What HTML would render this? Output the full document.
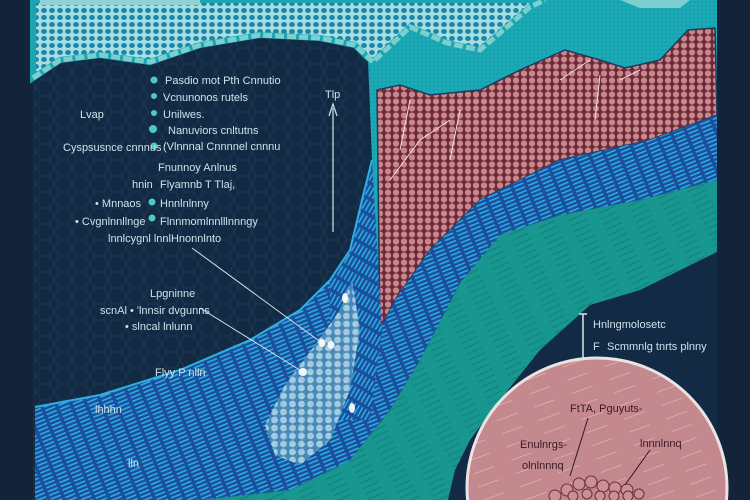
<!DOCTYPE html>
<html><head><meta charset="utf-8">
<style>
html,body{margin:0;padding:0;background:#13233a;width:750px;height:500px;overflow:hidden;}
svg{display:block;overflow:hidden}
text{font-family:"Liberation Sans Narrow","Liberation Sans",sans-serif;fill:#cfe2ea;font-size:11px;}
</style></head>
<body>
<svg width="750" height="500" viewBox="0 0 750 500" xmlns="http://www.w3.org/2000/svg">
<defs>
<clipPath id="frame"><rect width="750" height="500"/></clipPath>
<pattern id="hexd" width="18" height="16" patternUnits="userSpaceOnUse">
<path d="M0 8 L4.5 0 L13.5 0 L18 8 L13.5 16 L4.5 16 Z" fill="none" stroke="#1f3a55" stroke-width="0.8"/>
</pattern>
<pattern id="hexl" width="8" height="7" patternUnits="userSpaceOnUse">
<rect width="8" height="7" fill="#a9dedf"/>
<ellipse cx="4" cy="3.5" rx="2.9" ry="2.5" fill="#1b86ad"/>
</pattern>
<pattern id="dots" width="4" height="4" patternUnits="userSpaceOnUse">
<rect width="4" height="4" fill="#1ba9b6"/>
<circle cx="2" cy="2" r="0.6" fill="#117f8e"/>
</pattern>
<pattern id="cells" width="8" height="7" patternUnits="userSpaceOnUse">
<rect width="8" height="7" fill="#6e2a37"/>
<circle cx="4" cy="3.5" r="3.1" fill="#c7868d"/>
</pattern>
<pattern id="strip" width="14" height="4" patternUnits="userSpaceOnUse" patternTransform="rotate(-22)">
<rect width="14" height="4" fill="#1a4f9c"/>
<rect x="0" y="1" width="11" height="1.6" rx="0.8" fill="#2eaae0"/>
</pattern>
<pattern id="strip2" width="14" height="4" patternUnits="userSpaceOnUse" patternTransform="rotate(-60)">
<rect width="14" height="4" fill="#1a4f9c"/>
<rect x="0" y="1" width="11" height="1.6" rx="0.8" fill="#2eaae0"/>
</pattern>
<pattern id="tealln" width="30" height="6" patternUnits="userSpaceOnUse" patternTransform="rotate(-25)">
<rect width="30" height="6" fill="#17978f"/>
<rect x="2" y="2" width="18" height="0.8" fill="#137a76"/>
</pattern>
<pattern id="wcells" width="9" height="8" patternUnits="userSpaceOnUse">
<rect width="9" height="8" fill="#4f8fb8"/>
<circle cx="4.5" cy="4" r="3.4" fill="#b9dbe8"/>
</pattern>
<pattern id="pinkln" width="40" height="14" patternUnits="userSpaceOnUse" patternTransform="rotate(-20)">
<rect width="40" height="14" fill="#c4898e"/>
<rect x="3" y="5" width="22" height="0.7" fill="#e4b7ba"/>
</pattern>
</defs>
<g clip-path="url(#frame)">
<rect width="750" height="500" fill="#13233a"/>
<rect x="33" y="0" width="684" height="500" fill="#132a44"/>
<rect x="33" y="0" width="340" height="500" fill="url(#hexd)"/>
<path d="M367 0 L717 0 L717 115 L650 140 L560 160 L480 200 L430 250 L395 300 L380 330 L372 160 L368 60 Z" fill="url(#dots)"/>

<path d="M33 0 L545 0 L530 7 L507 27 L480 50 L447 43 L410 27 L373 62 L368 58 L355 45 L330 40 L320 38 L260 35 L200 45 L150 62 L100 55 L60 60 L33 78 Z" fill="url(#hexl)" stroke="#1aa5b0" stroke-width="6"/>
<path d="M33 78 L60 60 L100 55 L150 62 L200 45 L260 35 L320 38 L355 45 L373 62 L410 27 L447 43 L480 50 L507 27 L530 7 L545 0" fill="none" stroke="#7ccfcf" stroke-width="5" stroke-dasharray="9 3"/>
<rect x="40" y="0" width="160" height="5" fill="#8fd3d6"/>
<path d="M620 0 L690 0 L680 8 L640 8 Z" fill="#7ccfcf"/>

<path d="M377 90 L400 85 L430 95 L480 90 L520 70 L565 50 L600 60 L625 68 L660 60 L688 30 L715 28 L717 115 L650 140 L560 160 L480 200 L430 250 L395 300 L380 330 Z" fill="url(#cells)" stroke="#1c3a5a" stroke-width="1.5"/>
<path d="M410 100 L400 150 M390 180 L420 140 L450 120 M460 110 L450 160 M560 80 L590 60 M600 75 L595 120 M620 80 L640 70" stroke="#f0e0e0" stroke-width="1" fill="none"/>

<path d="M35 407 L100 395 L180 370 L250 340 L300 310 L330 280 L350 250 L362 200 L372 160 L380 330 L395 300 L430 250 L480 200 L560 160 L650 140 L717 115 L717 180 L640 200 L560 215 L500 235 L460 283 L420 360 L390 410 L350 460 L290 490 L200 500 L35 500 Z" fill="url(#strip)"/>
<path d="M330 280 L350 250 L362 200 L372 160 L382 330 L370 420 L330 420 Z" fill="url(#strip2)"/>
<path d="M35 407 L100 395 L180 370 L250 340 L300 310 L330 280 L350 250 L362 200 L372 160" fill="none" stroke="#2fb0e0" stroke-width="2"/>

<path d="M352 280 L360 330 L350 390 L330 440 L300 465 L275 455 L265 425 L285 385 L315 345 L340 310 Z" fill="url(#wcells)" opacity="0.85"/>

<path d="M717 180 L640 200 L560 215 L500 235 L460 283 L420 360 L390 410 L350 460 L290 490 L200 500 L448 500 L455 470 L470 440 L500 400 L540 350 L590 305 L640 290 L717 252 Z" fill="url(#tealln)"/>

<line x1="333" y1="232" x2="333" y2="108" stroke="#d8e4ea" stroke-width="1.2"/>
<path d="M329 116 L333 104 L337 116" fill="none" stroke="#d8e4ea" stroke-width="1.2"/>
<line x1="192" y1="248" x2="322" y2="343" stroke="#d8e4ea" stroke-width="1"/>
<line x1="200" y1="308" x2="303" y2="372" stroke="#d8e4ea" stroke-width="1"/>
<ellipse cx="345" cy="298" rx="3" ry="5" fill="#f2f6f8"/>
<ellipse cx="322" cy="343" rx="3.5" ry="4" fill="#f2f6f8"/>
<ellipse cx="331" cy="345" rx="3.5" ry="4" fill="#f2f6f8"/>
<ellipse cx="303" cy="372" rx="4" ry="4" fill="#f2f6f8"/>
<ellipse cx="352" cy="408" rx="3" ry="5" fill="#f2f6f8"/>

<g fill="#4ec9c2">
<circle cx="154" cy="80" r="3.5"/><circle cx="154" cy="96" r="3"/><circle cx="154" cy="113" r="3"/>
<circle cx="153" cy="129" r="4"/><circle cx="154" cy="146" r="3.5"/><circle cx="152" cy="202" r="3.5"/><circle cx="152" cy="218" r="3.5"/>
</g>

<text x="165" y="84">Pasdio mot Pth Cnnutio</text>
<text x="163" y="101" font-size="10">Vcnunonos rutels</text>
<text x="163" y="118">Unilwes.</text>
<text x="168" y="134">Nanuviors  cnltutns</text>
<text x="163" y="150">(Vlnnnal Cnnnnel cnnnu</text>
<text x="80" y="118" font-size="9">Lvap</text>
<text x="63" y="151" font-size="9">Cyspsusnce cnnnus</text>
<text x="158" y="171" font-size="10">Fnunnoy Anlnus</text>
<text x="132" y="188" font-size="10">hnin</text>
<text x="160" y="188">Flyamnb T Tlaj,</text>
<text x="95" y="207" font-size="10">• Mnnaos</text>
<text x="160" y="207">Hnnlnlnny</text>
<text x="75" y="225" font-size="10">• Cvgnlnnllnge</text>
<text x="160" y="225">Flnnmomlnnlllnnngy</text>
<text x="108" y="242" font-size="10">lnnlcygnl  lnnlHnonnlnto</text>
<text x="325" y="98" font-size="9">Tlp</text>
<text x="150" y="297" font-size="10">Lpgninne</text>
<text x="100" y="314" font-size="10">scnAl • 'lnnsir dvgunns</text>
<text x="125" y="330" font-size="10">• slncal  lnlunn</text>
<text x="155" y="376" font-size="8">Flyy P nlln</text>
<text x="95" y="413" font-size="8">lhhhn</text>
<text x="128" y="467" font-size="7">lln</text>

<line x1="583" y1="314" x2="583" y2="358" stroke="#d8e4ea" stroke-width="1.5"/>
<line x1="579" y1="314" x2="587" y2="314" stroke="#d8e4ea" stroke-width="1.5"/>
<text x="593" y="328">Hnlngmolosetc</text>
<text x="593" y="350">F</text>
<text x="607" y="350">Scmmnlg  tnrts  plnny</text>

<circle cx="597" cy="488" r="130" fill="url(#pinkln)" stroke="#ebe3e3" stroke-width="3"/>
<g fill="#c99096" stroke="#6e2a37" stroke-width="1">
<circle cx="555" cy="496" r="6"/><circle cx="567" cy="490" r="6"/><circle cx="579" cy="484" r="6"/>
<circle cx="591" cy="482" r="6"/><circle cx="603" cy="486" r="6"/><circle cx="615" cy="488" r="6"/>
<circle cx="627" cy="490" r="6"/><circle cx="639" cy="494" r="5"/><circle cx="573" cy="496" r="5"/>
<circle cx="587" cy="494" r="5"/><circle cx="600" cy="496" r="5"/><circle cx="614" cy="496" r="5"/><circle cx="628" cy="496" r="5"/>
</g>
<line x1="588" y1="418" x2="570" y2="476" stroke="#2a1a20" stroke-width="1"/>
<line x1="650" y1="450" x2="625" y2="485" stroke="#2a1a20" stroke-width="1"/>
<text x="570" y="412" style="fill:#3a1a24">FtTA, Pguyuts-</text>
<text x="520" y="448" style="fill:#3a1a24">Enulnrgs-</text>
<text x="522" y="469" style="fill:#3a1a24">olnlnnnq</text>
<text x="640" y="447" style="fill:#3a1a24">lnnnlnnq</text>
</g>
</svg>
</body></html>
